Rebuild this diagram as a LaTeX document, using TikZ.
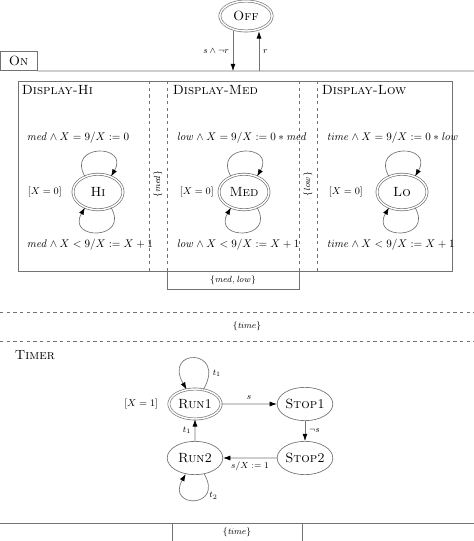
\documentclass[tikz,border=0pt]{standalone}
\usepackage{amsmath}
\usepackage{amssymb}
\usepackage{tikz}
\usetikzlibrary{arrows.meta,shapes.geometric}
\colorlet{linecol}{black!55}

\begin{document}
\begin{tikzpicture}
        [x=1pt,y=1pt,scale=.9,
         >={Latex[black,length=6.5pt,width=4.5pt]},
         wire/.style={draw=linecol,line width=.6pt},
         every edge/.style={wire,->},
         state/.style={ellipse,wire,inner sep=0pt,minimum width=50pt,minimum height=30pt,font=\large\scshape},
         init/.style={state,double,double distance=1.3pt,minimum width=47pt,minimum height=27pt},
         disp/.style={init,minimum width=45pt,minimum height=32pt},
         title/.style={anchor=west,font=\large\scshape},
         lab/.style={font=\footnotesize},
         toploop/.style={out=120,in=60,distance=38pt},
         botloop/.style={out=-60,in=-120,distance=38pt}]
        \useasboundingbox (0,0) rectangle (474,-541);

        % top level
        \node[init] (off) at (246,-16) {Off};
        \node[wire,anchor=south west,minimum width=33pt,minimum height=17pt,font=\large\scshape] (on) at (0,-71) {On};
        \coordinate (enter) at (233,-71);
        \coordinate (leave) at (259,-71);
        \draw[wire] (on.south east) -- (474,-71);
        \path (off.south -| enter) edge node[left,lab] {$s\land\lnot r$} (enter);
        \path (leave) edge node[right,lab] {$r$} (off.south -| leave);

        % display
        \draw[wire] (18,-81) rectangle (452,-271);
        \foreach \x in {149,167,299,317}
            \draw[wire,dashed] (\x,-81) -- (\x,-271);
        \node[lab,rotate=90] (chmed) at (158,-184) {$\{\mathit{med}\}$};
        \node[lab,rotate=90] (chlow) at (308,-184) {$\{\mathit{low}\}$};
        \draw[wire] (167,-271) rectangle (299,-289);
        \node[lab] (chml) at (233,-280) {$\{\mathit{med},\mathit{low}\}$};

        \node[title] (dhi) at (18,-90) {Display-Hi};
        \node[disp] (hi) at (98,-192) {Hi};
        \node[anchor=west,font=\small] (hiinit) at (24,-192) {$[X=0]$};
        \node[anchor=west] (hitop) at (23,-138) {$\mathit{med}\land X=9/X:=0$};
        \node[anchor=west] (hibot) at (23,-245) {$\mathit{med}\land X<9/X:=X+1$};
        \path (hi.130) edge[toploop] (hi.50)
              (hi.-50) edge[botloop] (hi.-130);

        \node[title] (dmed) at (169,-90) {Display-Med};
        \node[disp] (med) at (244,-192) {Med};
        \node[anchor=west,font=\small] (medinit) at (176,-192) {$[X=0]$};
        \node[anchor=west] (medtop) at (173,-138) {$\mathit{low}\land X=9/X:=0*\mathit{med}$};
        \node[anchor=west] (medbot) at (173,-245) {$\mathit{low}\land X<9/X:=X+1$};
        \path (med.130) edge[toploop] (med.50)
              (med.-50) edge[botloop] (med.-130);

        \node[title] (dlow) at (318,-90) {Display-Low};
        \node[disp] (lo) at (402,-192) {Lo};
        \node[anchor=west,font=\small] (loinit) at (325,-192) {$[X=0]$};
        \node[anchor=west] (lotop) at (323,-138) {$\mathit{time}\land X=9/X:=0*\mathit{low}$};
        \node[anchor=west] (lobot) at (323,-245) {$\mathit{time}\land X<9/X:=X+1$};
        \path (lo.130) edge[toploop] (lo.50)
              (lo.-50) edge[botloop] (lo.-130);

        % time channel
        \draw[wire,dashed] (0,-312) -- (474,-312);
        \draw[wire,dashed] (0,-341) -- (474,-341);
        \node[lab] (chtime) at (247,-326) {$\{\mathit{time}\}$};

        % timer
        \node[title] (dtimer) at (11,-355) {Timer};
        \node[init] (run1) at (195,-404) {Run1};
        \node[state] (stop1) at (305,-404) {Stop1};
        \node[state] (stop2) at (305,-458) {Stop2};
        \node[state] (run2) at (195,-458) {Run2};
        \node[anchor=east,font=\small] (runinit) at (162,-404) {$[X=1]$};
        \path (run1) edge node[above,lab] {$s$} (stop1)
              (stop1) edge node[right,lab] {$\lnot s$} (stop2)
              (stop2) edge node[below,lab] {$s/X:=1$} (run2)
              (run2) edge node[left,lab] {$t_1$} (run1)
              (run1) edge[out=60,in=120,distance=48pt] node[pos=.15,right,lab] {$t_1$} (run1)
              (run2) edge[botloop,distance=40pt] node[pos=.3,right,lab] {$t_2$} (run2);

        % bottom
        \draw[wire] (0,-523) -- (474,-523);
        \draw[wire] (172,-523) -- (172,-541);
        \draw[wire] (302,-523) -- (302,-541);
        \node[lab] (chtime2) at (237,-532) {$\{\mathit{time}\}$};
\end{tikzpicture}
\end{document}
